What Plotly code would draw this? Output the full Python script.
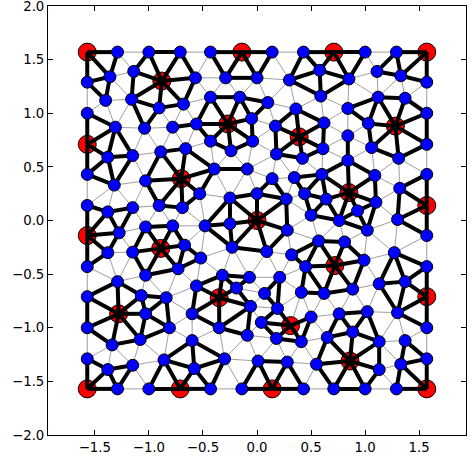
"""Clustered node mesh: Delaunay edges thin, intra-cluster edges thick."""

import plotly.graph_objects as go

# cluster heads (red), cluster id = position in list + 1
head_x = [-1.57, -0.14, 0.71, 1.57, -0.88, -0.27, 0.39, 1.28, -1.57, -0.70,
          0.85, 1.57, 0.00, -1.57, -0.89, 0.72, 1.57, -1.28, -0.35, 0.31,
          0.86, -0.71, 0.14, 1.57, -1.57]
head_y = [1.57, 1.57, 1.57, 1.57, 1.30, 0.90, 0.78, 0.88, 0.71, 0.39,
          0.26, 0.14, 0.00, -0.14, -0.26, -0.42, -0.71, -0.87, -0.72, -0.98,
          -1.31, -1.57, -1.57, -1.57, -1.57]

# member nodes (blue) and the cluster each belongs to
node_x = [
    -1.29, -1.36, -1.57, -1.40,
    -0.43, 0.14, -0.29, 0.00,
    0.43, 1.00, 0.58, 0.30, 0.85, 0.59,
    1.29, 1.11, 1.33, 1.57,
    -1.00, -0.71, -1.14, -0.57, -1.16, -0.905, -0.68, -1.04,
    -0.43, -0.16, 0.10, -0.56, -0.05, -0.43, -0.24, -0.04, -0.78,
    0.36, 0.62, 0.17, 0.61, 0.42, 0.18,
    1.12, 1.37, 1.57, 0.84, 1.03, 1.06, 1.57, 1.31,
    -1.57, -1.31, -1.38, -1.15, -1.57, -1.32,
    -0.89, -0.66, -1.03, -0.905, -0.69, -0.395, -0.53, -0.09,
    0.84, 0.84, 1.09, 0.60, 0.345, 0.44, 0.64, 0.50, 0.76, 0.93, 1.10, 1.02,
    1.57, 1.32, 1.30, 1.57,
    -0.25, 0.00, 0.27, 0.14, 0.28, 0.09, -0.23, -0.25, -0.48,
    -1.57, -1.38, -1.15, -1.275, -1.38, -1.57,
    -1.03, -0.78, -0.67, -1.15, -1.03, -0.73, -0.52,
    0.57, 0.81, 0.32, 0.45, 0.99, 0.41, 0.62, 0.885,
    1.57, 1.27, 1.13, 1.37, 1.57, 1.30,
    -1.29, -1.57, -1.07, -0.84, -1.03, -1.57, -0.81, -1.34, -1.08,
    -0.32, -0.07, -0.19, -0.56, -0.60, -0.35, -0.06, -0.09,
    0.07, 0.21, 0.04, 0.19, 0.18, 0.41, 0.50,
    0.65, 0.885, 1.13, 1.13, 0.55, 0.71, 1.00, 1.02, 0.76,
    -1.00, -0.86, -0.60, -0.58, -0.43, -0.30,
    -0.14, 0.43, 0.01, 0.28,
    1.29, 1.57, 1.33, 1.37,
    -1.29, -1.57, -1.38, -1.15,
]
node_y = [
    1.57, 1.34, 1.29, 1.12,
    1.57, 1.57, 1.33, 1.33,
    1.57, 1.57, 1.40, 1.31, 1.32, 1.16,
    1.57, 1.39, 1.35, 1.29,
    1.57, 1.57, 1.39, 1.33, 1.13, 1.05, 1.085, 0.86,
    1.15, 1.15, 1.10, 0.90, 0.95, 0.74, 0.65, 0.74, 0.87,
    1.04, 0.91, 0.88, 0.67, 0.58, 0.62,
    1.15, 1.14, 1.00, 1.045, 0.905, 0.68, 0.71, 0.58,
    1.00, 0.87, 0.59, 0.605, 0.43, 0.33,
    0.64, 0.67, 0.37, 0.14, 0.12, 0.48, 0.25, 0.48,
    0.79, 0.56, 0.42, 0.43, 0.40, 0.25, 0.20, 0.05, 0.00, 0.09, 0.17, -0.09,
    0.43, 0.30, 0.01, -0.14,
    0.21, 0.25, 0.20, 0.39, -0.09, -0.29, -0.25, -0.03, -0.05,
    0.14, 0.08, 0.12, -0.115, -0.30, -0.43,
    -0.06, -0.05, -0.23, -0.295, -0.51, -0.45, -0.35,
    -0.19, -0.20, -0.32, -0.43, -0.37, -0.67, -0.68, -0.64,
    -0.43, -0.30, -0.59, -0.57, -1.00, -0.86,
    -0.57, -0.71, -0.70, -0.72, -0.87, -1.00, -1.00, -1.16, -1.11,
    -0.51, -0.53, -0.63, -0.61, -0.87, -1.00, -0.80, -1.07,
    -0.68, -0.53, -0.95, -0.82, -1.10, -1.13, -0.90,
    -1.09, -1.04, -1.13, -1.39, -1.34, -1.57, -1.57, -0.85, -0.87,
    -1.57, -1.30, -1.12, -1.38, -1.57, -1.29,
    -1.57, -1.57, -1.31, -1.32,
    -1.57, -1.29, -1.34, -1.12,
    -1.57, -1.29, -1.39, -1.35,
]
node_cluster = (
    [1] * 4 + [2] * 4 + [3] * 6 + [4] * 4 + [5] * 8 + [6] * 9 + [7] * 6
    + [8] * 8 + [9] * 6 + [10] * 8 + [11] * 12 + [12] * 4 + [13] * 9
    + [14] * 6 + [15] * 7 + [16] * 8 + [17] * 6 + [18] * 9 + [19] * 8
    + [20] * 7 + [21] * 9 + [22] * 6 + [23] * 4 + [24] * 4 + [25] * 4
)


def delaunay_edges(xs, ys):
    """Bowyer-Watson triangulation, returns the set of index pairs."""
    n = len(xs)
    pts = list(zip(xs, ys)) + [(-1e4, -1e4), (1e4, -1e4), (0.0, 1e4)]
    tris = [(n, n + 1, n + 2)]

    def in_circle(t, p):
        (ax, ay), (bx, by), (cx, cy) = (pts[t[0]], pts[t[1]], pts[t[2]])
        adx, ady = ax - p[0], ay - p[1]
        bdx, bdy = bx - p[0], by - p[1]
        cdx, cdy = cx - p[0], cy - p[1]
        al, bl, cl = adx * adx + ady * ady, bdx * bdx + bdy * bdy, cdx * cdx + cdy * cdy
        det = (adx * (bdy * cl - bl * cdy) - ady * (bdx * cl - bl * cdx)
               + al * (bdx * cdy - bdy * cdx))
        return det > 0

    for i in range(n):
        bad = [t for t in tris if in_circle(t, pts[i])]
        count = {}
        for t in bad:
            for e in ((t[0], t[1]), (t[1], t[2]), (t[2], t[0])):
                key = frozenset(e)
                count[key] = count.get(key, 0) + 1
        bad_set = set(bad)
        tris = [t for t in tris if t not in bad_set]
        for t in bad:
            for a, b in ((t[0], t[1]), (t[1], t[2]), (t[2], t[0])):
                if count[frozenset((a, b))] == 1:
                    tris.append((a, b, i))

    edges = set()
    for t in tris:
        if max(t) >= n:
            continue
        for a, b in ((t[0], t[1]), (t[1], t[2]), (t[2], t[0])):
            edges.add((min(a, b), max(a, b)))
    return edges


def segments(edges, xs, ys):
    sx, sy = [], []
    for a, b in sorted(edges):
        sx += [xs[a], xs[b], None]
        sy += [ys[a], ys[b], None]
    return sx, sy


all_x = head_x + node_x
all_y = head_y + node_y
all_cluster = list(range(1, len(head_x) + 1)) + node_cluster

edges = delaunay_edges(all_x, all_y)
strong = {e for e in edges if all_cluster[e[0]] == all_cluster[e[1]]}

fig = go.Figure()
tx, ty = segments(edges, all_x, all_y)
fig.add_trace(go.Scatter(x=tx, y=ty, mode="lines",
                         line={"color": "rgb(135,135,135)", "width": 0.8}))
fig.add_trace(go.Scatter(x=head_x, y=head_y, mode="markers",
                         marker={"color": "#ff0000", "size": 18,
                                 "line": {"color": "black", "width": 1}}))
kx, ky = segments(strong, all_x, all_y)
fig.add_trace(go.Scatter(x=kx, y=ky, mode="lines",
                         line={"color": "black", "width": 4}))
fig.add_trace(go.Scatter(x=node_x, y=node_y, mode="markers",
                         marker={"color": "#0000ff", "size": 12,
                                 "line": {"color": "black", "width": 1}}))

axis = dict(showgrid=False, zeroline=False, showline=True, mirror="ticks",
            linecolor="black", linewidth=1, ticks="inside", ticklen=5,
            tickcolor="black", tickformat=".1f", automargin=False,
            ticklabeloverflow="allow")
fig.update_layout(
    width=474, height=463,
    margin={"l": 48, "r": 8, "t": 6, "b": 28},
    paper_bgcolor="white", plot_bgcolor="white",
    showlegend=False, hovermode=False,
    font={"family": "DejaVu Sans", "size": 13.3, "color": "black"},
    xaxis=dict(axis, range=[-1.933, 1.933],
               tickvals=[-1.5, -1.0, -0.5, 0.0, 0.5, 1.0, 1.5]),
    yaxis=dict(axis, range=[-2.0, 2.0],
               tickvals=[-2.0, -1.5, -1.0, -0.5, 0.0, 0.5, 1.0, 1.5, 2.0]),
)
fig.write_html("out.html", config={"displayModeBar": False},
               post_script="document.body.style.margin = '0';")
